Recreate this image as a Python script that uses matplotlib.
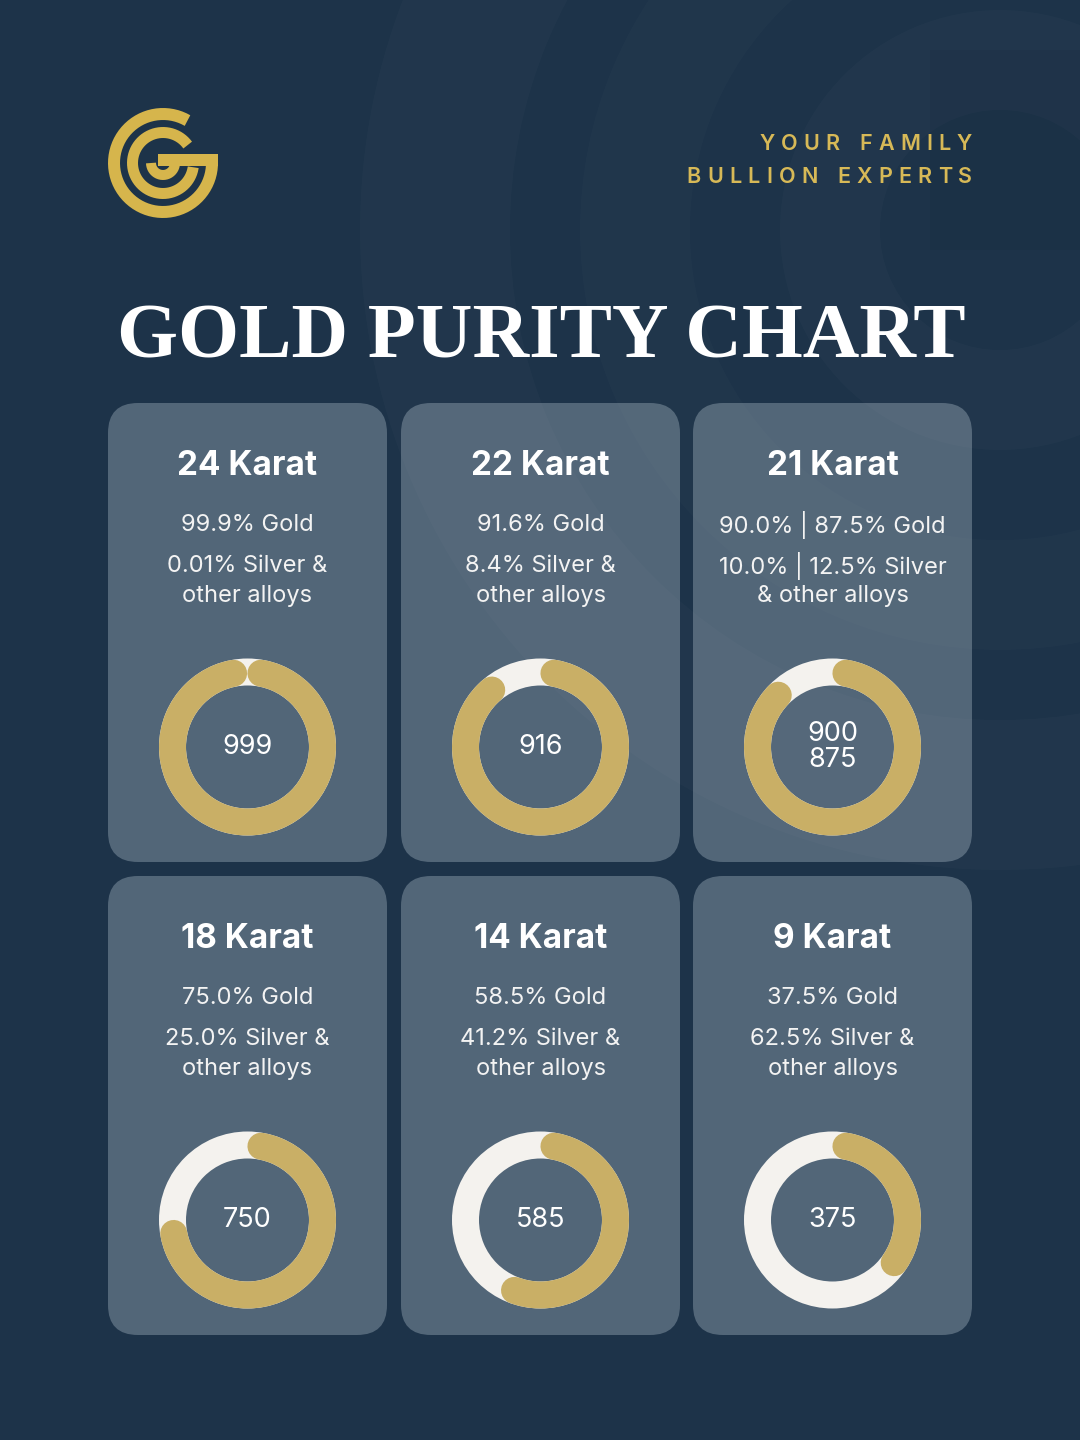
import numpy as np
import matplotlib
matplotlib.use('Agg')
import matplotlib.pyplot as plt
from matplotlib.patches import FancyBboxPatch, Wedge, Rectangle

# ---------------- data ----------------
karats = ['24 Karat', '22 Karat', '21 Karat', '18 Karat', '14 Karat', '9 Karat']
gold_lines = ['99.9% Gold', '91.6% Gold', '90.0% | 87.5% Gold',
              '75.0% Gold', '58.5% Gold', '37.5% Gold']
alloy_lines = [['0.01% Silver &', 'other alloys'],
               ['8.4% Silver &', 'other alloys'],
               ['10.0% | 12.5% Silver', '& other alloys'],
               ['25.0% Silver &', 'other alloys'],
               ['41.2% Silver &', 'other alloys'],
               ['62.5% Silver &', 'other alloys']]
gold_share = [99.9, 91.6, 90.0, 75.0, 58.5, 37.5]
fineness = [['999'], ['916'], ['900', '875'], ['750'], ['585'], ['375']]
title = 'GOLD PURITY CHART'
tagline = ['YOUR FAMILY', 'BULLION EXPERTS']

# ---------------- style ----------------
BG = '#1d3349'
GOLD = '#c9af66'
TRACK = '#f4f2ee'
LOGO = '#d6b54c'
TAG = '#d7b957'
SANS = ['Inter', 'Lato', 'DejaVu Sans']

W, H, DPI = 1080, 1440, 100
fig = plt.figure(figsize=(W / DPI, H / DPI), dpi=DPI, facecolor=BG)
ax = fig.add_axes([0, 0, 1, 1])
ax.set_xlim(0, W)
ax.set_ylim(H, 0)
ax.axis('off')
ax.set_facecolor(BG)
PX = 72.0 / DPI  # points per pixel

renderer = fig.canvas.get_renderer()


def text_width(t):
    return t.get_window_extent(renderer=renderer).width


# ---------------- watermark ----------------
for (cx, cy, r, w, a) in [(1000, 230, 640, 150, 0.018),
                          (1000, 230, 420, 110, 0.014),
                          (1000, 230, 220, 100, 0.018)]:
    ax.add_patch(Wedge((cx, cy), r, 0, 360, width=w, facecolor='white',
                       alpha=a, edgecolor='none', zorder=0))
ax.add_patch(Rectangle((930, 50), 150, 200, facecolor='#17293c', alpha=0.18,
                       edgecolor='none', zorder=0.5))

# ---------------- logo ----------------
lc = (163, 163)


def arc_pts(c, r, t1, t2, n=200):
    t = np.radians(np.linspace(t1, t2, n))
    return c[0] + r * np.cos(t), c[1] - r * np.sin(t)


for (r, t1, t2, lw) in [(49, 60, 368, 12), (30.5, 36, 352, 11), (12, 180, 360, 10)]:
    x, y = arc_pts(lc, r, t1, t2)
    ax.plot(x, y, color=LOGO, lw=lw * PX, solid_capstyle='butt', zorder=3)
ax.add_patch(Rectangle((158, 154), 60, 12, facecolor=LOGO, edgecolor='none', zorder=3))

# ---------------- tagline (letter spaced) ----------------
def spaced_text(s, x_right, y, size, track, color):
    widths = []
    for ch in s:
        if ch == ' ':
            t = ax.text(0, 0, 'I', fontsize=size, family=SANS, weight='semibold')
            widths.append(text_width(t) * 1.2)
        else:
            t = ax.text(0, 0, ch, fontsize=size, family=SANS, weight='semibold')
            widths.append(text_width(t))
        t.remove()
    total = sum(widths) + track * (len(s) - 1)
    x = x_right - total
    for ch, w in zip(s, widths):
        if ch != ' ':
            ax.text(x, y, ch, fontsize=size, family=SANS, weight='semibold',
                    color=color, ha='left', va='center', zorder=4)
        x += w + track


spaced_text(tagline[0], 972, 144, 15.5, 6.2, TAG)
spaced_text(tagline[1], 972, 177, 15.5, 6.2, TAG)

# ---------------- title ----------------
tt = ax.text(541, 357, title, fontsize=60, family=['Liberation Serif', 'DejaVu Serif'],
             weight='bold', color='white', ha='center', va='baseline', zorder=4)
tw = text_width(tt)
tt.set_fontsize(60 * 848 / tw)

# ---------------- cards ----------------
card_x = [108, 401, 693]
card_y = [403, 876]
card_w, card_h = 279, 459
R_OUT, RING_W = 88.5, 27
R_MID = R_OUT - RING_W / 2

for i in range(6):
    col, row = i % 3, i // 3
    x0, y0 = card_x[col], card_y[row]
    cx = x0 + card_w / 2
    ax.add_patch(FancyBboxPatch((x0, y0), card_w, card_h,
                                boxstyle='round,pad=0,rounding_size=30',
                                facecolor='#cedde6', alpha=0.30,
                                edgecolor='none', zorder=1))
    ax.text(cx, y0 + 63, karats[i], fontsize=24, family=SANS, weight='bold',
            color='white', ha='center', va='center', zorder=4)
    ax.text(cx, y0 + 122, gold_lines[i], fontsize=17, family=SANS, weight='normal',
            color='#f3f3f3', ha='center', va='center', zorder=4)
    for k, line in enumerate(alloy_lines[i]):
        ax.text(cx, y0 + 163 + 30 * k, line, fontsize=17, family=SANS, weight='normal',
                color='#f3f3f3', ha='center', va='center', zorder=4)

    # donut
    dcx, dcy = cx, y0 + 344
    ax.add_patch(Wedge((dcx, dcy), R_OUT, 0, 360, width=RING_W,
                       facecolor=TRACK, edgecolor='none', zorder=2))
    cap = (RING_W / 2) / R_MID
    a_end = gold_share[i] / 100 * 2 * np.pi - cap
    a = np.linspace(cap, a_end, 400)
    ax.plot(dcx + R_MID * np.sin(a), dcy - R_MID * np.cos(a), color=GOLD,
            lw=RING_W * PX, solid_capstyle='round', zorder=3)

    lines = fineness[i]
    n = len(lines)
    for k, line in enumerate(lines):
        yy = dcy + (k - (n - 1) / 2) * 26
        ax.text(dcx, yy, line, fontsize=19.5, family=SANS, weight='normal',
                color='white', ha='center', va='center', zorder=4)

fig.savefig('out.png', dpi=DPI, facecolor=BG)
